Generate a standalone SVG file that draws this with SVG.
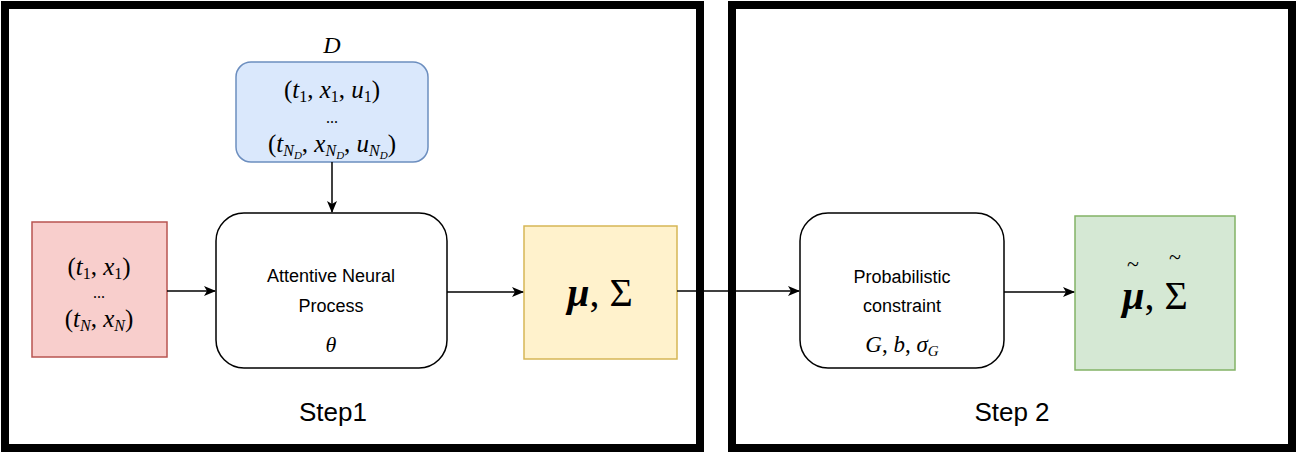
<svg xmlns="http://www.w3.org/2000/svg" width="1297" height="453" viewBox="0 0 1297 453">
<style>
.frame{fill:none;stroke:#000;stroke-width:8}
.s{font-family:"Liberation Sans",Arial,sans-serif;fill:#000;text-anchor:middle}
.m{font-family:"Liberation Serif","Times New Roman",serif;fill:#000;text-anchor:middle}
.i{font-style:italic}
.c{stroke:#000;stroke-width:1.5;fill:none;marker-end:url(#a)}
</style>
<defs><marker id="a" markerWidth="12" markerHeight="10" refX="11" refY="5" orient="auto" markerUnits="userSpaceOnUse"><path d="M0,0 L12,5 L0,10 L3,5 Z" fill="#000"/></marker></defs>
<rect width="1297" height="453" fill="#fff"/>
<g id="step1"><rect class="frame" x="5" y="5" width="695" height="443"/><text class="s" x="333" y="421" font-size="26">Step1</text></g>
<g id="step2"><rect class="frame" x="732" y="5" width="560" height="443"/><text class="s" x="1012" y="421" font-size="26">Step 2</text></g>
<g id="D">
<text class="m i" x="332" y="53" font-size="24">D</text>
<rect x="236" y="62" width="192" height="100" rx="15" fill="#dae8fc" stroke="#6c8ebf" stroke-width="1.5"/>
<text class="m" x="332" y="98" font-size="25">(<tspan class="i">t</tspan><tspan font-size="16" dy="4">1</tspan><tspan dy="-4">, </tspan><tspan class="i">x</tspan><tspan font-size="16" dy="4">1</tspan><tspan dy="-4">, </tspan><tspan class="i">u</tspan><tspan font-size="16" dy="4">1</tspan><tspan dy="-4">)</tspan></text>
<text class="m" x="332" y="123" font-size="16">...</text>
<text class="m" x="332" y="152" font-size="25">(<tspan class="i">t</tspan><tspan class="i" font-size="16" dy="4">N</tspan><tspan class="i" font-size="11" dy="3">D</tspan><tspan dy="-7">, </tspan><tspan class="i">x</tspan><tspan class="i" font-size="16" dy="4">N</tspan><tspan class="i" font-size="11" dy="3">D</tspan><tspan dy="-7">, </tspan><tspan class="i">u</tspan><tspan class="i" font-size="16" dy="4">N</tspan><tspan class="i" font-size="11" dy="3">D</tspan><tspan dy="-7">)</tspan></text>
</g>
<g id="input">
<rect x="32" y="222" width="135" height="135" fill="#f8cecc" stroke="#b85450" stroke-width="1.5"/>
<text class="m" x="99" y="275" font-size="25">(<tspan class="i">t</tspan><tspan font-size="16" dy="4">1</tspan><tspan dy="-4">, </tspan><tspan class="i">x</tspan><tspan font-size="16" dy="4">1</tspan><tspan dy="-4">)</tspan></text>
<text class="m" x="99" y="298" font-size="16">...</text>
<text class="m" x="99" y="327" font-size="25">(<tspan class="i">t</tspan><tspan class="i" font-size="16" dy="4">N</tspan><tspan dy="-4">, </tspan><tspan class="i">x</tspan><tspan class="i" font-size="16" dy="4">N</tspan><tspan dy="-4">)</tspan></text>
</g>
<g id="anp">
<rect x="216" y="213" width="231" height="155" rx="28" fill="#fff" stroke="#000" stroke-width="1.5"/>
<text class="s" x="331" y="282" font-size="18">Attentive Neural</text>
<text class="s" x="331" y="312" font-size="18">Process</text>
<text class="m i" x="331" y="352" font-size="22">θ</text>
</g>
<g id="out1">
<rect x="524" y="226" width="153" height="133" fill="#fff2cc" stroke="#d6b656" stroke-width="1.5"/>
<text class="m" x="600" y="306" font-size="40"><tspan class="i" font-weight="bold">μ</tspan>, Σ</text>
</g>
<g id="prob">
<rect x="800" y="213" width="204" height="155" rx="28" fill="#fff" stroke="#000" stroke-width="1.5"/>
<text class="s" x="902" y="283" font-size="18">Probabilistic</text>
<text class="s" x="902" y="312" font-size="18">constraint</text>
<text class="m" x="902" y="352" font-size="23"><tspan class="i">G</tspan>, <tspan class="i">b</tspan>, <tspan class="i">σ</tspan><tspan class="i" font-size="15" dy="4">G</tspan></text>
</g>
<g id="out2">
<rect x="1075" y="216" width="160" height="154" fill="#d5e8d4" stroke="#82b366" stroke-width="1.5"/>
<text class="m" x="1155" y="309" font-size="40"><tspan class="i" font-weight="bold">μ</tspan>, Σ</text>
<text class="m" x="1133" y="271" font-size="22">~</text>
<text class="m" x="1175" y="264" font-size="22">~</text>
</g>
<g id="connectors">
<path class="c" d="M167,291 L215,291"/>
<path class="c" d="M332,162 L332,212"/>
<path class="c" d="M447,292 L523,292"/>
<path class="c" d="M677,291 L799,291"/>
<path class="c" d="M1004,292 L1074,292"/>
</g>
</svg>
